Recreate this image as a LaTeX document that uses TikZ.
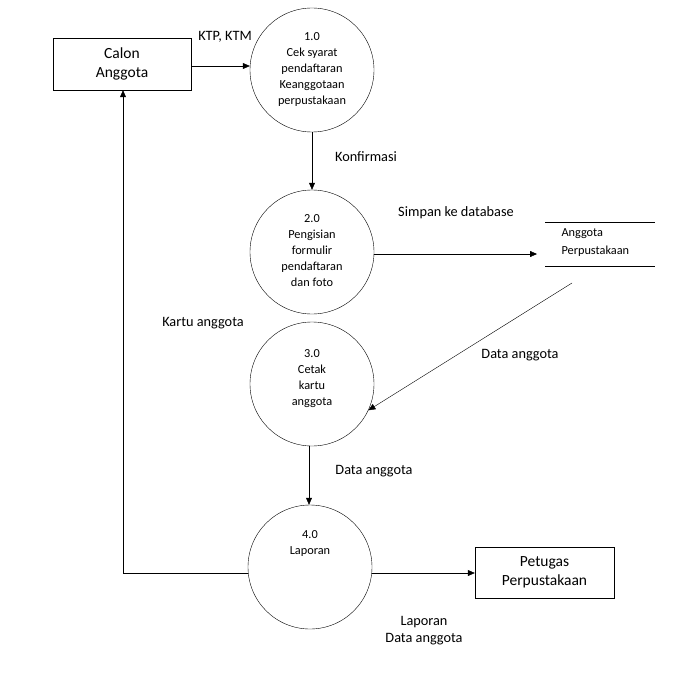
\documentclass[tikz,border=0pt]{standalone}
\usepackage{fontspec}
\setmainfont{Carlito}
\usetikzlibrary{arrows.meta}
\begin{document}
\begin{tikzpicture}[x=1pt,y=-1pt,
    proc/.style={circle, draw, minimum size=124pt, inner sep=0pt},
    ptxt/.style={align=center, font=\fontsize{12.3}{16}\selectfont, anchor=north},
    ent/.style={rectangle, draw, minimum width=138pt, minimum height=52pt, align=center, font=\fontsize{15.5}{19}\selectfont},
    lbl/.style={font=\fontsize{14.3}{17}\selectfont},
    flow/.style={-{Triangle[length=7pt,width=6pt]}}
]
    \useasboundingbox (0,0) rectangle (695,682);

    % Entities
    \node[ent] (calon) at (122,64) {Calon\\Anggota};
    \node[ent, minimum width=139pt, minimum height=51pt] (petugas) at (544.5,572.5) {Petugas\\Perpustakaan};

    % Processes
    \node[proc] (p1) at (312,70) {};
    \node[ptxt] at (312,29) {1.0\\Cek syarat\\pendaftaran\\Keanggotaan\\perpustakaan};
    \node[proc] (p2) at (312,252) {};
    \node[ptxt] at (312,211) {2.0\\Pengisian\\formulir\\pendaftaran\\dan foto};
    \node[proc] (p3) at (312,384) {};
    \node[ptxt] at (312,346) {3.0\\Cetak\\kartu\\anggota};
    \node[proc] (p4) at (310,567) {};
    \node[ptxt] at (310,527) {4.0\\Laporan};

    % Data store
    \coordinate (s1) at (545,222);
    \coordinate (s2) at (655,222);
    \coordinate (s3) at (545,266);
    \coordinate (s4) at (655,266);
    \draw (s1) -- (s2);
    \draw (s3) -- (s4);
    \node[align=left, anchor=west, font=\fontsize{12.3}{18}\selectfont] (store) at (558,243) {Anggota\\Perpustakaan};

    % Flows
    \draw[flow] (calon.east |- 0,66) -- (p1.west |- 0,66);
    \node[lbl] at (225,37) {KTP, KTM};
    \draw[flow] (p1) -- (p2);
    \node[lbl] at (366,157) {Konfirmasi};
    \coordinate (sin) at (537,254);
    \draw[flow] (p2.east |- 0,254) -- (sin);
    \node[lbl] at (456,213) {Simpan ke database};
    \coordinate (sout) at (572,283);
    \draw[flow] (sout) -- (p3.-25);
    \node[lbl] at (520,355) {Data anggota};
    \draw[flow] (p3.south -| 309,0) -- (p4.north -| 309,0);
    \node[lbl] at (374,471) {Data anggota};
    \draw[flow] (p4.east |- 0,573) -- (petugas.west |- 0,573);
    \node[lbl, align=center] at (424,631) {Laporan\\Data anggota};
    \draw[flow] (p4.west |- 0,573) -- (123,573) -- (calon.south -| 123,0);
    \node[lbl] at (203,323) {Kartu anggota};
\end{tikzpicture}
\end{document}
